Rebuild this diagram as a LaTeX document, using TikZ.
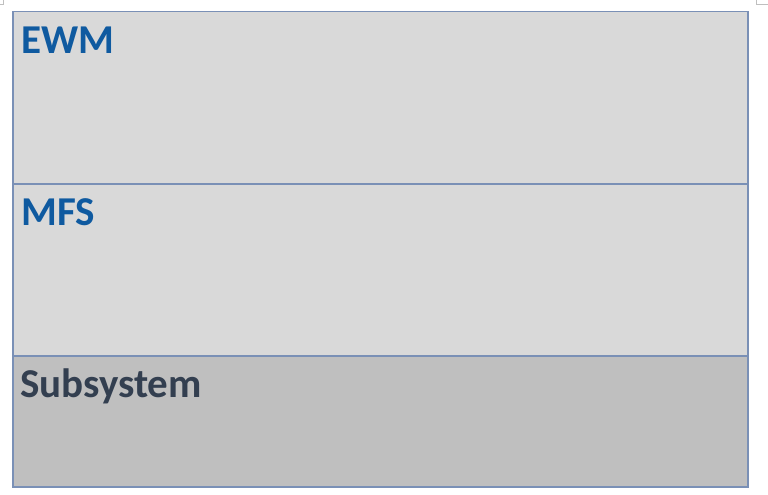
\documentclass[tikz,border=0pt]{standalone}
\usepackage{fontspec}
\setmainfont{Carlito}
\definecolor{layerfill}{HTML}{D9D9D9}
\definecolor{subfill}{HTML}{BFBFBF}
\definecolor{layerline}{HTML}{7A90B6}
\definecolor{titleblue}{HTML}{0F5AA0}
\definecolor{titledark}{HTML}{333F50}
\definecolor{cropgray}{HTML}{BFBFBF}
\tikzset{
  layerbox/.style={draw=layerline, line width=1.5pt, fill=layerfill, inner sep=0pt,
    anchor=north west, minimum width=735pt},
  layertitle/.style={anchor=base west, inner sep=0pt, font=\fontsize{41}{49}\selectfont\bfseries},
  cropmark/.style={draw=cropgray, line width=0.8pt},
}
\begin{document}
\begin{tikzpicture}[x=1pt,y=-1pt]
\useasboundingbox (0,0) rectangle (768,495);
% crop marks
\coordinate (tl1) at (3,0); \coordinate (tl2) at (3,4); \coordinate (tl3) at (0,4);
\coordinate (tr1) at (756,0); \coordinate (tr2) at (756,4); \coordinate (tr3) at (768,4);
\draw[cropmark] (tl1) -- (tl2) -- (tl3);
\draw[cropmark] (tr1) -- (tr2) -- (tr3);
% layers
\node[layerbox, minimum height=172pt] (ewm) at (12,11) {};
\node[layerbox, minimum height=172pt] (mfs) at (12,183) {};
\node[layerbox, fill=subfill, minimum height=131pt] (sub) at (12,355) {};
% titles
\node[layertitle, text=titleblue] (ewmt) at (21,53) {EWM};
\node[layertitle, text=titleblue] (mfst) at (21,225) {MFS};
\node[layertitle, text=titledark] (subt) at (20,397) {Subsystem};
\end{tikzpicture}
\end{document}
